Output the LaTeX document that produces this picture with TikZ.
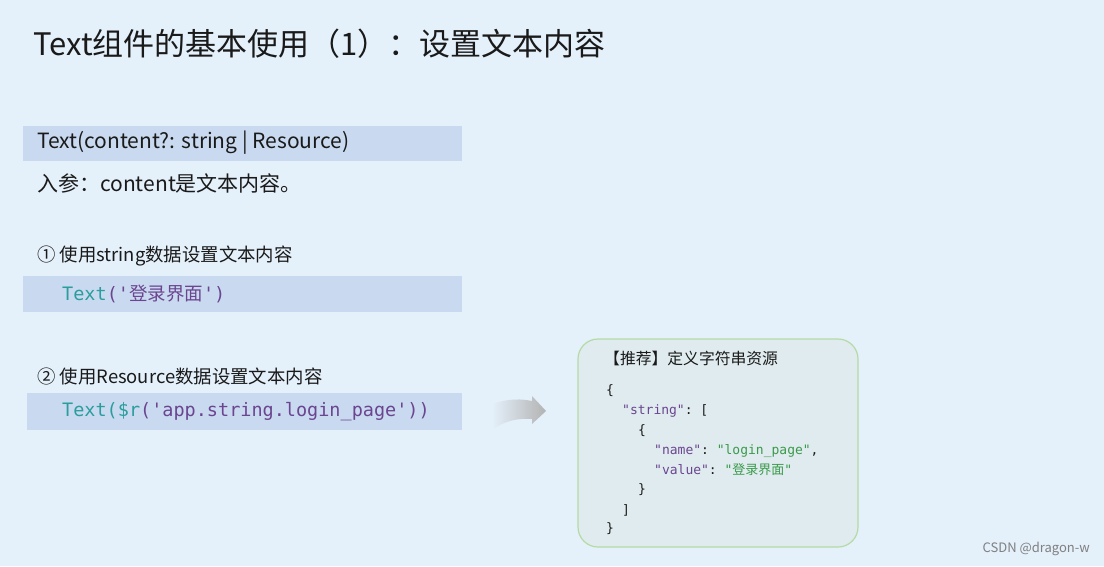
\documentclass[tikz,border=0pt]{standalone}
\usepackage{fontspec}
\setmainfont{Noto Sans CJK SC}
\newfontfamily\cjk{Noto Sans CJK SC}
\setmonofont{DejaVu Sans Mono}
\definecolor{bg}{HTML}{E4F0FA}
\definecolor{bar}{HTML}{C9DAF0}
\definecolor{teal}{HTML}{2A9D9C}
\definecolor{purp}{HTML}{6B4590}
\definecolor{grn}{HTML}{3A9A4A}
\definecolor{boxfill}{HTML}{DFEBEE}
\definecolor{boxline}{HTML}{B5DBA5}
\definecolor{txt}{HTML}{1A1A1A}
\tikzset{
  barbox/.style={fill=bar},
  lbl/.style={anchor=west,inner sep=0pt,text=txt,font=\fontsize{21}{24}\selectfont},
  code/.style={anchor=west,inner sep=0pt,font=\ttfamily\fontsize{18.5}{21}\selectfont},
  jl/.style={anchor=west,inner sep=0pt,text=txt,font=\ttfamily\fontsize{13}{15}\selectfont},
}
\begin{document}
\begin{tikzpicture}[x=1pt,y=-1pt]
\fill[bg] (0,0) rectangle (1104,566);
\useasboundingbox (0,0) rectangle (1104,566);
\node[anchor=base west,inner sep=0pt,text=txt,font=\fontsize{31}{34}\selectfont] (title) at (33,55) {Text组件的基本使用（1）：设置文本内容};
\fill[barbox] (23,126) rectangle (462,161);
\node[lbl] (sig) at (37,143) {Text(content?: string | Resource)};
\node[lbl] (param) at (37,183) {入参：content是文本内容。};
\node[lbl,font=\fontsize{18.4}{21}\selectfont] (s1) at (37,256) {① 使用string数据设置文本内容};
\fill[barbox] (23,276) rectangle (462,312);
\node[code] (c1) at (62,294) {\textcolor{teal}{Text}\textcolor{purp}{('{\cjk 登录界面}')}};
\node[lbl,font=\fontsize{18.4}{21}\selectfont] (s2) at (37,376) {② 使用Resource数据设置文本内容};
\fill[barbox] (27,393) rectangle (462,430);
\node[code] (c2) at (62,412) {\textcolor{teal}{Text(\$r}\textcolor{purp}{('app.string.login\_page'))}};
\shade[left color=bg,right color=gray!60] (492,404) .. controls (510,398) and (522,399) .. (532,401) -- (532,396) -- (546,411) -- (532,424) -- (532,419) .. controls (520,418) and (505,420) .. (492,430) -- cycle;
\draw[boxline,fill=boxfill,line width=1.2pt,rounded corners=20] (578,339) rectangle (858,547);
\node[anchor=west,inner sep=0pt,text=txt,font=\fontsize{15.8}{18}\selectfont] (bt) at (604,358) {【推荐】定义字符串资源};
\node[jl] (j1) at (606,391) {\{};
\node[jl] (j2) at (622,411) {\textcolor{purp}{"string"}: [};
\node[jl] (j3) at (638,431) {\{};
\node[jl] (j4) at (654,451) {\textcolor{purp}{"name"}: \textcolor{grn}{"login\_page"},};
\node[jl] (j5) at (654,470) {\textcolor{purp}{"value"}: \textcolor{grn}{"{\cjk 登录界面}"}};
\node[jl] (j6) at (638,490) {\}};
\node[jl] (j7) at (622,510) {]};
\node[jl] (j8) at (606,529) {\}};
\node[anchor=east,inner sep=0pt,text=gray,font=\fontsize{13}{15}\selectfont] (wm) at (1090,549) {CSDN @dragon-w};
\end{tikzpicture}
\end{document}
